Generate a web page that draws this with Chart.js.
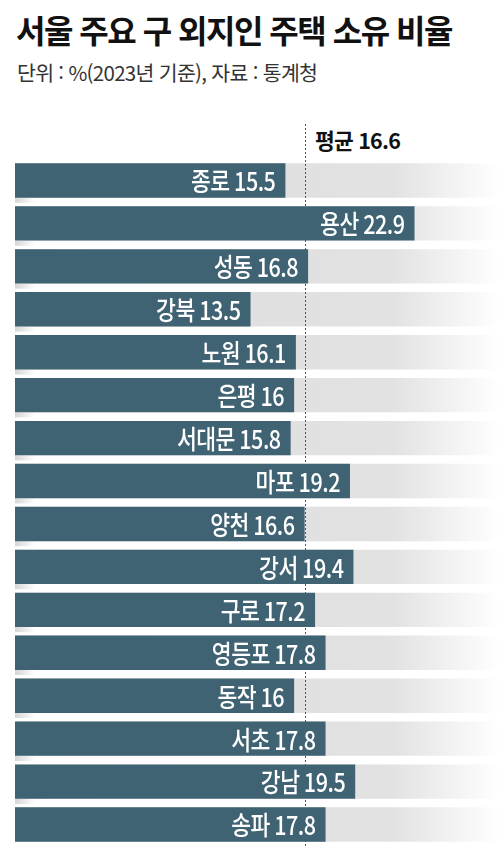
<!DOCTYPE html>
<html lang="ko">
<head>
<meta charset="utf-8">
<script src="https://cdn.jsdelivr.net/npm/chart.js@4.4.1/dist/chart.umd.min.js"></script>
<style>
    html, body { margin: 0; padding: 0; background: #fff; }
    body { width: 500px; height: 854px; position: relative; overflow: hidden; font-family: "Noto Sans CJK KR", "Noto Sans", sans-serif; }
    .title { position: absolute; left: 16px; top: 6px; font-size: 32px; font-weight: 700; letter-spacing: -1.5px; color: #111; white-space: nowrap; }
    .subtitle { position: absolute; left: 17px; top: 57px; font-size: 20.5px; color: #333; letter-spacing: -0.7px; white-space: nowrap; }
    .avg-label { position: absolute; top: 124px; font-size: 21.5px; font-weight: 700; color: #111; letter-spacing: -0.8px; white-space: nowrap; }
    #chart-wrap { position: absolute; left: 0; top: 0; width: 500px; height: 854px; }
</style>
</head>
<body>
<div class="title">서울 주요 구 외지인 주택 소유 비율</div>
<div class="subtitle">단위 : %(2023년 기준), 자료 : 통계청</div>
<div class="avg-label" id="avg-label">평균 16.6</div>
<div id="chart-wrap"><canvas id="ratioChart"></canvas></div>

<script>
// data
const districts = ['종로', '용산', '성동', '강북', '노원', '은평', '서대문', '마포', '양천', '강서', '구로', '영등포', '동작', '서초', '강남', '송파'];
const ratios = [15.5, 22.9, 16.8, 13.5, 16.1, 16, 15.8, 19.2, 16.6, 19.4, 17.2, 17.8, 16, 17.8, 19.5, 17.8];
const average = 16.6;
const axisMax = 27.8;
const trackValues = districts.map(() => axisMax);

// grey track fading out to the right
function trackGradient(context) {
    const area = context.chart.chartArea;
    if (!area) return '#dcdcdd';
    const g = context.chart.ctx.createLinearGradient(area.left, 0, area.right, 0);
    g.addColorStop(0, '#dcdcdd');
    g.addColorStop(0.78, '#e2e2e3');
    g.addColorStop(1, '#ffffff');
    return g;
}

// soft shadow at the left end of each gap
const gapShade = {
    id: 'gapShade',
    beforeDatasetsDraw(chart) {
        const bars = chart.getDatasetMeta(1).data;
        const ctx = chart.ctx;
        const left = chart.chartArea.left;
        ctx.save();
        for (let i = 0; i < bars.length - 1; i++) {
            const top = bars[i].y + bars[i].height / 2;
            const bottom = bars[i + 1].y - bars[i + 1].height / 2;
            const g = ctx.createLinearGradient(left, 0, left + 20, 0);
            g.addColorStop(0, 'rgba(0,0,0,0.16)');
            g.addColorStop(1, 'rgba(0,0,0,0)');
            ctx.fillStyle = g;
            ctx.fillRect(left, top, 20, (bottom - top) * 0.6);
        }
        ctx.restore();
    }
};

// dotted average line, drawn after the track but under the bars
const averageLine = {
    id: 'averageLine',
    beforeDatasetDraw(chart, args) {
        if (args.index !== 0) return;
        const x = Math.round(chart.scales.x.getPixelForValue(average)) + 0.5;
        const ctx = chart.ctx;
        ctx.save();
        ctx.strokeStyle = '#555';
        ctx.lineWidth = 1;
        ctx.setLineDash([2, 2]);
        ctx.beginPath();
        ctx.moveTo(x, 124);
        ctx.lineTo(x, chart.chartArea.bottom);
        ctx.stroke();
        ctx.restore();
    }
};

// white labels at the end of each bar, narrowed like the original type
const barLabels = {
    id: 'barLabels',
    afterDatasetsDraw(chart) {
        const meta = chart.getDatasetMeta(0);
        const ctx = chart.ctx;
        const squeeze = 0.83;
        meta.data.forEach((bar, i) => {
            ctx.save();
            ctx.translate(bar.x - 10, bar.y + 1);
            ctx.scale(squeeze, 1);
            ctx.fillStyle = '#ffffff';
            ctx.font = '500 26px "Noto Sans CJK KR", sans-serif';
            ctx.textAlign = 'right';
            ctx.textBaseline = 'middle';
            if (ctx.letterSpacing !== undefined) ctx.letterSpacing = '-0.6px';
            ctx.fillText(districts[i] + ' ' + ratios[i], 0, 0);
            ctx.restore();
        });
    }
};

const chart = new Chart(document.getElementById('ratioChart'), {
    type: 'bar',
    data: {
        labels: districts,
        datasets: [
            {
                data: ratios,
                backgroundColor: '#3f6373',
                grouped: false,
                order: 1,
                categoryPercentage: 0.8,
                barPercentage: 1
            },
            {
                data: trackValues,
                backgroundColor: trackGradient,
                grouped: false,
                order: 2,
                categoryPercentage: 0.8,
                barPercentage: 1
            }
        ]
    },
    options: {
        indexAxis: 'y',
        responsive: true,
        maintainAspectRatio: false,
        animation: false,
        layout: { padding: { left: 15, right: 0, top: 159, bottom: 8 } },
        scales: {
            x: { display: false, min: 0, max: axisMax },
            y: { display: false }
        },
        plugins: {
            legend: { display: false },
            tooltip: { enabled: false }
        }
    },
    plugins: [gapShade, averageLine, barLabels]
});

// put the average caption just right of the dotted line
const avgX = chart.scales.x.getPixelForValue(average);
document.getElementById('avg-label').style.left = Math.round(avgX + 10) + 'px';
</script>
</body>
</html>
